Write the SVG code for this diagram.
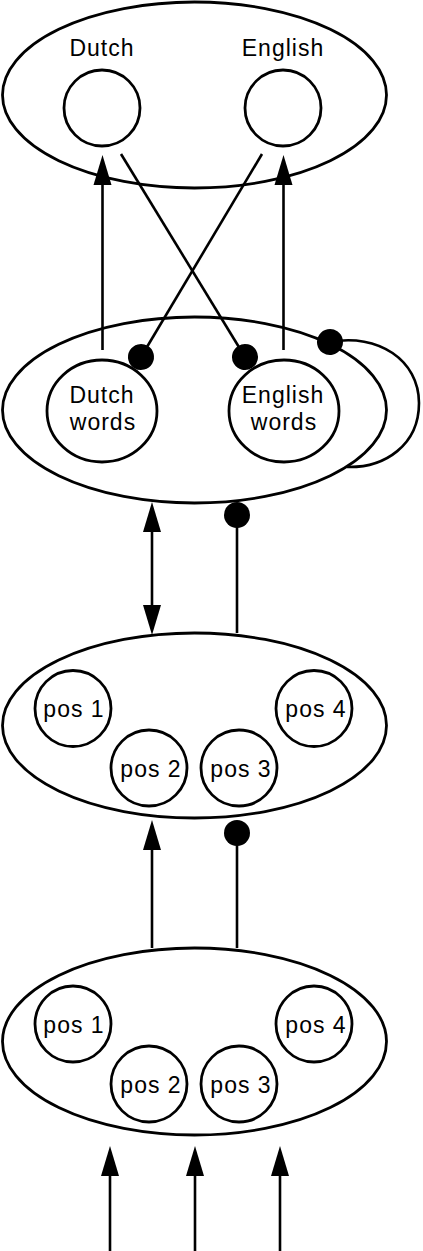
<svg xmlns="http://www.w3.org/2000/svg" width="423" height="1251" viewBox="0 0 423 1251">
<style>
.shape{fill:#fff;stroke:#000;stroke-width:2.8}
.line{fill:none;stroke:#000;stroke-width:2.6}
.lbl{font-family:"Liberation Sans",Arial,sans-serif;font-size:23px;letter-spacing:1px;text-anchor:middle;fill:#000}
</style>
<defs>
<marker id="arrow" markerUnits="userSpaceOnUse" markerWidth="32" markerHeight="20" refX="1" refY="9" orient="auto-start-reverse" overflow="visible">
<path d="M0,0 L30,9 L0,18 Z" fill="#000"/>
</marker>
<marker id="dot" markerUnits="userSpaceOnUse" markerWidth="28" markerHeight="28" refX="14" refY="14" orient="auto" overflow="visible">
<circle cx="14" cy="14" r="13" fill="#000"/>
</marker>
</defs>
<g id="lexicon">
<ellipse class="shape" cx="194.5" cy="95" rx="192" ry="93"/>
<circle class="shape" cx="102" cy="108" r="38"/>
<circle class="shape" cx="283" cy="108" r="38"/>
<text class="lbl" x="102" y="56">Dutch</text>
<text class="lbl" x="283" y="56">English</text>
</g>
<g id="words">
<ellipse class="shape" cx="194.5" cy="410" rx="192" ry="93"/>
<ellipse class="shape" cx="102" cy="411" rx="55" ry="51"/>
<ellipse class="shape" cx="284" cy="411" rx="55" ry="51"/>
<text class="lbl" x="102" y="403">Dutch</text>
<text class="lbl" x="103" y="430">words</text>
<text class="lbl" x="283" y="403">English</text>
<text class="lbl" x="284" y="430">words</text>
</g>
<g id="positions1">
<ellipse class="shape" cx="194.5" cy="725.5" rx="192" ry="92.5"/>
<circle class="shape" cx="73" cy="708.5" r="38"/>
<circle class="shape" cx="149" cy="768" r="38"/>
<circle class="shape" cx="239" cy="768" r="38"/>
<circle class="shape" cx="314" cy="708.5" r="38"/>
<text class="lbl" x="74" y="717">pos 1</text>
<text class="lbl" x="151" y="777">pos 2</text>
<text class="lbl" x="241" y="777">pos 3</text>
<text class="lbl" x="316" y="717">pos 4</text>
</g>
<g id="positions2">
<ellipse class="shape" cx="194.5" cy="1041.5" rx="192" ry="93.5"/>
<circle class="shape" cx="73" cy="1024" r="38"/>
<circle class="shape" cx="149" cy="1084" r="38"/>
<circle class="shape" cx="239" cy="1084" r="38"/>
<circle class="shape" cx="314" cy="1024" r="38"/>
<text class="lbl" x="74" y="1033">pos 1</text>
<text class="lbl" x="151" y="1093">pos 2</text>
<text class="lbl" x="241" y="1093">pos 3</text>
<text class="lbl" x="316" y="1033">pos 4</text>
</g>
<g id="connectors">
<path class="line" d="M102.5,350 L102.5,184" marker-end="url(#arrow)"/>
<path class="line" d="M283.5,350 L283.5,184" marker-end="url(#arrow)"/>
<path class="line" d="M121,154 L245,357" marker-end="url(#dot)"/>
<path class="line" d="M262,154 L141,357" marker-end="url(#dot)"/>
<path class="line" d="M347,467 C385,468 419,445 419,403 C419,360 378,333 330,342" marker-end="url(#dot)"/>
<path class="line" d="M152,531 L152,606" marker-start="url(#arrow)" marker-end="url(#arrow)"/>
<path class="line" d="M237,633 L237,515" marker-end="url(#dot)"/>
<path class="line" d="M152,948 L152,849" marker-end="url(#arrow)"/>
<path class="line" d="M237,948 L237,833" marker-end="url(#dot)"/>
<path class="line" d="M110,1251 L110,1175" marker-end="url(#arrow)"/>
<path class="line" d="M195,1251 L195,1175" marker-end="url(#arrow)"/>
<path class="line" d="M280,1251 L280,1175" marker-end="url(#arrow)"/>
</g>
</svg>
